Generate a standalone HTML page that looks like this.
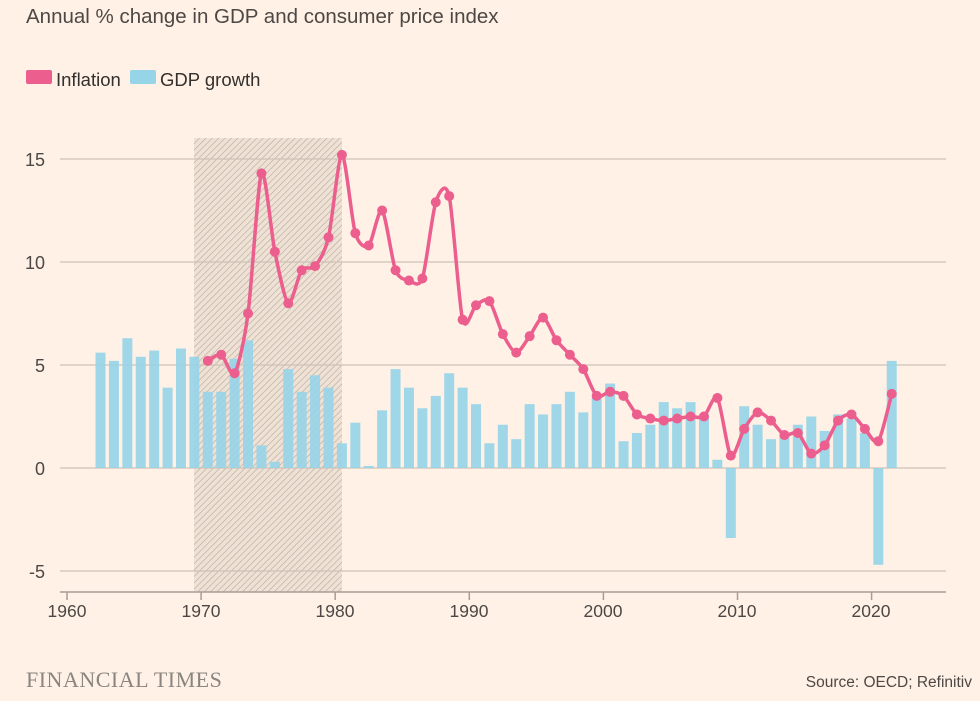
<!DOCTYPE html>
<html><head><meta charset="utf-8"><style>
body{margin:0;background:#fff1e5;width:980px;height:696px;overflow:hidden;font-family:"Liberation Sans",sans-serif;color:#33302e}
</style></head><body>
<svg id="s" width="980" height="696" xmlns="http://www.w3.org/2000/svg">
<defs><pattern id="h" patternUnits="userSpaceOnUse" width="4.5" height="4.5" patternTransform="rotate(45)"><rect width="4.5" height="4.5" fill="#efe2d5"/><line x1="0" y1="0" x2="0" y2="4.5" stroke="#b8aca2" stroke-width="1.3"/></pattern></defs>
<text x="26" y="23" font-size="20.5" fill="#4d4845">Annual % change in GDP and consumer price index</text>
<rect x="26" y="70" width="26" height="14" rx="2" fill="#eb5e8d"/>
<text x="56" y="86" font-size="18.5" fill="#33302e">Inflation</text>
<rect x="130" y="70" width="26" height="14" rx="2" fill="#96d4e8"/>
<text x="160" y="86" font-size="18.5" fill="#33302e">GDP growth</text>
<rect x="194" y="138" width="148" height="454" fill="url(#h)"/>
<g id="grid" stroke="#cdc2b8" stroke-width="1.3"></g>
<g id="bars" fill="#96d4e8" fill-opacity="0.9"></g>
<g font-size="18" fill="#4d4845" text-anchor="end">
<text x="45" y="166">15</text><text x="45" y="269">10</text><text x="45" y="372">5</text><text x="45" y="475">0</text><text x="45" y="578">-5</text>
</g>
<line x1="60" y1="592" x2="946" y2="592" stroke="#a69d95" stroke-width="1.5"/>
<g id="ticks" stroke="#a69d95" stroke-width="1.5"></g>
<g font-size="17.5" fill="#4d4845" text-anchor="middle">
<text x="67" y="617">1960</text><text x="201" y="617">1970</text><text x="335" y="617">1980</text><text x="469" y="617">1990</text><text x="603" y="617">2000</text><text x="737" y="617">2010</text><text x="871" y="617">2020</text>
</g>
<path id="line" fill="none" stroke="#eb5e8d" stroke-width="3.5"/>
<g id="dots" fill="#eb5e8d"></g>
<text x="26" y="687" font-size="22" font-family="Liberation Serif,serif" fill="#8a8580" letter-spacing="0.5">FINANCIAL TIMES</text>
<text x="972" y="687" font-size="15.5" fill="#4d4845" text-anchor="end">Source: OECD; Refinitiv</text>
</svg>
<script>
var X=function(y){return 67+(y-1960)*13.41},Y=function(v){return 468-v*20.6};
var ns="http://www.w3.org/2000/svg";
function el(p,t,a){var e=document.createElementNS(ns,t);for(var k in a)e.setAttribute(k,a[k]);document.getElementById(p).appendChild(e);}
[15,10,5,0,-5].forEach(function(v){el("grid","line",{x1:60,x2:946,y1:Y(v),y2:Y(v)});});
[1960,1970,1980,1990,2000,2010,2020].forEach(function(y){el("ticks","line",{x1:X(y),x2:X(y),y1:592,y2:600});});
var g=[5.6,5.2,6.3,5.4,5.7,3.9,5.8,5.4,3.7,3.7,5.3,6.2,1.1,0.3,4.8,3.7,4.5,3.9,1.2,2.2,0.1,2.8,4.8,3.9,2.9,3.5,4.6,3.9,3.1,1.2,2.1,1.4,3.1,2.6,3.1,3.7,2.7,3.4,4.1,1.3,1.7,2.1,3.2,2.9,3.2,2.6,0.4,-3.4,3.0,2.1,1.4,1.6,2.1,2.5,1.8,2.6,2.4,1.7,-4.7,5.2];
g.forEach(function(v,i){var cx=X(1962+i+0.5);el("bars","rect",{x:cx-5,width:10,y:Math.min(Y(v),468),height:Math.abs(v*20.6)});});
var f=[5.2,5.5,4.6,7.5,14.3,10.5,8.0,9.6,9.8,11.2,15.2,11.4,10.8,12.5,9.6,9.1,9.2,12.9,13.2,7.2,7.9,8.1,6.5,5.6,6.4,7.3,6.2,5.5,4.8,3.5,3.7,3.5,2.6,2.4,2.3,2.4,2.5,2.5,3.4,0.6,1.9,2.7,2.3,1.6,1.7,0.7,1.1,2.3,2.6,1.9,1.3,3.6];
var p=f.map(function(v,i){return [X(1970+i+0.5),Y(v)];});
var d="M"+p[0][0]+","+p[0][1],t=7.5;
for(var i=0;i<p.length-1;i++){var p0=p[Math.max(i-1,0)],p1=p[i],p2=p[i+1],p3=p[Math.min(i+2,p.length-1)];
d+=" C"+(p1[0]+(p2[0]-p0[0])/t)+","+(p1[1]+(p2[1]-p0[1])/t)+" "+(p2[0]-(p3[0]-p1[0])/t)+","+(p2[1]-(p3[1]-p1[1])/t)+" "+p2[0]+","+p2[1];}
document.getElementById("line").setAttribute("d",d);
p.forEach(function(q){el("dots","circle",{cx:q[0],cy:q[1],r:5});});
</script>
</body></html>
